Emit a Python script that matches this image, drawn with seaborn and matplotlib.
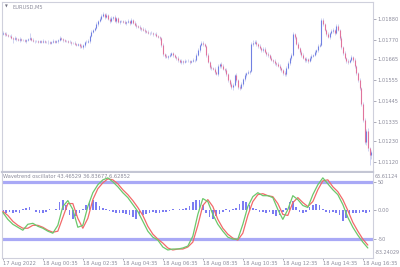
import numpy as np
import pandas as pd
import matplotlib
matplotlib.use('Agg')
import matplotlib.pyplot as plt
import matplotlib.transforms as mtrans
import seaborn as sns

sns.set_theme(style='white')
plt.rcParams['font.family'] = ['DejaVu Sans']

# ---------------- data ----------------
symbol = 'EURUSD,M5'
first_open = 1.01800
closes = [
    1.01806, 1.01800, 1.01795, 1.01790, 1.01790, 1.01779, 1.01774, 1.01779, 1.01774, 1.01768, 1.01774, 1.01768,
    1.01768, 1.01763, 1.01768, 1.01774, 1.01779, 1.01768, 1.01763, 1.01763, 1.01763, 1.01758, 1.01763, 1.01758,
    1.01763, 1.01758, 1.01758, 1.01758, 1.01753, 1.01758, 1.01763, 1.01758, 1.01763, 1.01768, 1.01779, 1.01774,
    1.01768, 1.01763, 1.01763, 1.01758, 1.01758, 1.01753, 1.01753, 1.01747, 1.01742, 1.01747, 1.01737, 1.01731,
    1.01742, 1.01758, 1.01758, 1.01763, 1.01790, 1.01811, 1.01822, 1.01832, 1.01853, 1.01869, 1.01880, 1.01896,
    1.01907, 1.01891, 1.01901, 1.01880, 1.01869, 1.01885, 1.01891, 1.01869, 1.01885, 1.01864, 1.01869, 1.01869,
    1.01864, 1.01859, 1.01864, 1.01869, 1.01859, 1.01875, 1.01859, 1.01848, 1.01843, 1.01838, 1.01832, 1.01827,
    1.01822, 1.01816, 1.01811, 1.01806, 1.01806, 1.01806, 1.01800, 1.01800, 1.01790, 1.01784, 1.01779, 1.01742,
    1.01694, 1.01684, 1.01678, 1.01684, 1.01689, 1.01699, 1.01689, 1.01678, 1.01673, 1.01662, 1.01652, 1.01657,
    1.01652, 1.01657, 1.01657, 1.01657, 1.01652, 1.01657, 1.01662, 1.01662, 1.01689, 1.01715, 1.01742, 1.01753,
    1.01747, 1.01737, 1.01689, 1.01652, 1.01625, 1.01620, 1.01615, 1.01599, 1.01588, 1.01630, 1.01641, 1.01630,
    1.01615, 1.01609, 1.01588, 1.01556, 1.01535, 1.01519, 1.01530, 1.01583, 1.01556, 1.01519, 1.01514, 1.01535,
    1.01561, 1.01583, 1.01593, 1.01599, 1.01604, 1.01747, 1.01753, 1.01758, 1.01747, 1.01737, 1.01726, 1.01715,
    1.01721, 1.01705, 1.01694, 1.01689, 1.01673, 1.01662, 1.01657, 1.01646, 1.01641, 1.01630, 1.01620, 1.01609,
    1.01593, 1.01588, 1.01620, 1.01646, 1.01673, 1.01689, 1.01800, 1.01784, 1.01747, 1.01726, 1.01705, 1.01689,
    1.01673, 1.01662, 1.01668, 1.01657, 1.01673, 1.01684, 1.01689, 1.01705, 1.01715, 1.01737, 1.01742, 1.01875,
    1.01853, 1.01822, 1.01800, 1.01784, 1.01806, 1.01816, 1.01822, 1.01806, 1.01843, 1.01822, 1.01779, 1.01731,
    1.01699, 1.01673, 1.01657, 1.01652, 1.01662, 1.01678, 1.01662, 1.01630, 1.01593, 1.01556, 1.01514, 1.01429,
    1.01344, 1.01227, 1.01285, 1.01195, 1.01158, 1.01174,
]
# wick lengths in points (0.00001)
wick_hi = [
    8, 6, 10, 5, 7, 9, 6, 8, 5, 7, 10, 6,
    5, 8, 6, 7, 27, 5, 9, 6, 8, 5, 7, 6,
    9, 5, 7, 8, 6, 5, 10, 6, 8, 7, 9, 5,
    6, 8, 5, 7, 9, 6, 5, 8, 6, 7, 5, 9,
    7, 6, 8, 10, 7, 9, 6, 8, 10, 7, 9, 8,
    10, 7, 9, 6, 8, 12, 7, 9, 6, 8, 7, 5,
    6, 8, 7, 9, 5, 10, 6, 8, 12, 7, 9, 6,
    8, 10, 7, 9, 6, 8, 5, 7, 9, 6, 8, 7,
    9, 6, 8, 7, 10, 6, 8, 5, 7, 9, 6, 8,
    7, 9, 6, 8, 5, 7, 9, 6, 8, 10, 7, 9,
    12, 8, 6, 9, 7, 10, 6, 8, 7, 9, 6, 8,
    10, 7, 9, 6, 8, 12, 9, 7, 10, 6, 8, 9,
    7, 8, 6, 9, 7, 12, 14, 8, 10, 7, 9, 6,
    8, 10, 7, 9, 6, 8, 7, 10, 6, 8, 9, 7,
    6, 9, 8, 10, 7, 12, 9, 8, 6, 10, 7, 9,
    8, 6, 10, 7, 9, 8, 6, 10, 7, 9, 8, 12,
    10, 8, 7, 9, 6, 10, 8, 7, 12, 9, 6, 8,
    7, 9, 6, 10, 8, 12, 7, 9, 6, 8, 10, 7,
    9, 8, 10, 14, 7, 12,
]
wick_lo = [
    6, 9, 5, 8, 7, 6, 21, 7, 9, 5, 8, 6,
    7, 5, 9, 6, 8, 7, 5, 9, 6, 8, 5, 7,
    6, 8, 5, 9, 7, 6, 8, 5, 7, 9, 6, 8,
    9, 5, 7, 8, 6, 9, 7, 5, 8, 6, 9, 7,
    8, 10, 6, 7, 9, 6, 8, 7, 5, 9, 6, 8,
    7, 9, 6, 8, 10, 7, 9, 6, 8, 7, 9, 6,
    8, 6, 9, 7, 10, 6, 8, 7, 9, 6, 8, 10,
    7, 9, 6, 8, 10, 7, 9, 6, 8, 7, 10, 9,
    8, 10, 7, 9, 6, 8, 10, 7, 9, 8, 6, 10,
    9, 7, 8, 6, 10, 8, 7, 9, 6, 8, 10, 7,
    9, 8, 10, 7, 12, 9, 8, 10, 7, 9, 8, 10,
    7, 9, 8, 12, 10, 9, 14, 8, 10, 9, 12, 8,
    10, 8, 9, 7, 10, 8, 9, 7, 8, 10, 7, 9,
    8, 7, 10, 9, 8, 7, 9, 8, 10, 7, 9, 8,
    10, 9, 8, 7, 9, 10, 8, 9, 7, 8, 10, 9,
    7, 9, 8, 10, 7, 9, 8, 7, 10, 9, 8, 7,
    9, 8, 10, 7, 9, 8, 10, 9, 7, 8, 10, 9,
    8, 7, 10, 9, 8, 7, 9, 10, 8, 9, 12, 10,
    12, 10, 14, 18, 53, 20,
]
price_ticks = [1.01880, 1.01770, 1.01665, 1.01555, 1.01445, 1.01335, 1.01230, 1.01120]

# oscillator sampled every 3 bars
wt_step = 3
wt1 = [
    -3.5, -15.6, -24.2, -29.4, -34.6, -24.2, -22.5, -27.7, -31.1, -36.3,
    -39.8, -26.0, 6.9, 17.3, 1.7, -29.4, -26.0, 6.9, 31.1, 45.0,
    53.6, 57.1, 50.2, 41.5, 31.1, 22.5, 10.4, -1.7, -19.0, -36.3,
    -46.7, -51.9, -64.0, -69.2, -67.5, -67.5, -65.7, -62.3, -45.0, -6.9,
    20.8, 15.6, -6.9, -24.2, -36.3, -46.7, -50.2, -50.2, -24.2, 6.9,
    24.2, 31.1, 25.9, 25.9, 22.5, 1.7, -15.6, 1.7, 25.9, 19.0,
    8.7, 5.2, 27.7, 45.0, 57.1, 46.7, 36.3, 27.7, 10.4, -12.1,
    -29.4, -43.3, -55.4, -65.7,
]
wt2 = [
    -1.7, -8.7, -19.0, -26.0, -31.1, -31.1, -26.0, -26.0, -29.4, -34.6,
    -38.1, -36.3, -12.1, 12.1, 12.1, -13.8, -31.1, -13.8, 19.0, 38.1,
    48.4, 55.4, 53.6, 46.7, 36.3, 27.7, 17.3, 5.2, -8.7, -27.7,
    -41.5, -50.2, -57.1, -65.7, -69.2, -67.5, -67.5, -64.0, -55.4, -26.0,
    8.7, 19.0, 6.9, -15.6, -31.1, -41.5, -48.4, -51.9, -39.8, -8.7,
    15.6, 27.7, 29.4, 25.9, 24.2, 12.1, -6.9, -8.7, 13.8, 22.5,
    13.8, 6.9, 15.6, 36.3, 51.9, 53.6, 41.5, 32.9, 19.0, 0.0,
    -20.8, -36.3, -50.2, -60.6,
]
# histogram sampled every 2 bars
hist_step = 2
hist = [
    -6, -4, -3, -4, -3, -4, 2, 4, 6, 1,
    -2, -5, -4, -2, 2, 1, 3, 14, 19, 10,
    -8, -15, -10, -5, 3, 10, 17, 19, 14, 8,
    4, 2, -1, -3, -4, -5, -4, -6, -8, -12,
    -15, -10, -8, -6, -4, -3, -5, -4, -2, -3,
    -1, 2, 1, 3, 2, 4, 8, 14, 19, 18,
    10, -4, -12, -15, -10, -6, -3, 2, -2, 3,
    5, 12, 16, 14, 9, 5, 2, -2, -3, -4,
    -3, -6, -10, -8, -2, 5, 14, 16, 6, -3,
    -4, -2, 6, 10, 12, 9, 3, -3, -4, -3,
    -5, -8, -18, -14, -8, -5, -4, -4, -3, -4,
    -3,
]
ind_title = 'Wavetrend oscillator 43.46529 36.83677 6.62852'
ind_max = 65.61124
ind_min = -83.24029
levels = [50, -50]
time_labels = ['17 Aug 2022', '18 Aug 00:35', '18 Aug 02:35', '18 Aug 04:35', '18 Aug 06:35',
               '18 Aug 08:35', '18 Aug 10:35', '18 Aug 12:35', '18 Aug 14:35', '18 Aug 16:35']
time_label_step = 24

# ---------------- build ----------------
n = len(closes)
idx = np.arange(n)
c = np.array(closes)
o = np.concatenate([[first_open], c[:-1]])
hi = np.maximum(o, c) + np.array(wick_hi) * 1e-5
lo = np.minimum(o, c) - np.array(wick_lo) * 1e-5
df = pd.DataFrame({'bar': idx, 'open': o, 'close': c, 'high': hi, 'low': lo})

W, H = 400, 267
fig = plt.figure(figsize=(W / 100, H / 100), dpi=100)
fig.patch.set_facecolor('white')

frame_col = '#cfd0dc'
txt_col = '#8c8c9c'
fs = 3.7

ax1 = fig.add_axes([2 / W, 1 - 172 / H, 371 / W, 170 / H])
ax2 = fig.add_axes([2 / W, 1 - 258 / H, 371 / W, 85 / H])

bull = '#6272e0'
bear = '#e3648f'
wick = '#c9cdef'

ax1.vlines(df['bar'], df['low'], df['high'], color=wick, lw=0.6, zorder=1)
up = df['close'] >= df['open']
ax1.vlines(df.loc[up, 'bar'], df.loc[up, 'open'], df.loc[up, 'close'], color=bull, lw=0.8, alpha=0.85, zorder=2)
ax1.vlines(df.loc[~up, 'bar'], df.loc[~up, 'open'], df.loc[~up, 'close'], color=bear, lw=0.8, alpha=0.85, zorder=2)

xl = (-0.5, 222.1)
ax1.set_xlim(*xl)
ax1.set_ylim(1.01068, 1.01970)
ax1.yaxis.tick_right()
ax1.set_yticks(price_ticks)
ax1.set_yticklabels([f'{p:.5f}' for p in price_ticks])
ax1.set_xticks([])
ax1.tick_params(axis='y', labelsize=fs, colors=txt_col, length=2, width=0.5, pad=1.5, right=True, left=False)
for lbl in ax1.get_yticklabels():
    lbl.set_color(txt_col)
for s in ['left', 'right', 'top']:
    ax1.spines[s].set_color(frame_col)
    ax1.spines[s].set_linewidth(0.8)
ax1.spines['bottom'].set_color('#c4c6d4')
ax1.spines['bottom'].set_linewidth(1.6)
ax1.text(0.008, 0.985, '\u25BC', transform=ax1.transAxes, fontsize=2.6, color='#707080', va='top', ha='left')
ax1.text(0.028, 0.985, symbol, transform=ax1.transAxes, fontsize=fs, color=txt_col, va='top', ha='left')

# indicator
for lv in levels:
    ax2.axhline(lv, color='#a9a9f6', lw=2.3, zorder=1)
hx = np.arange(len(hist)) * hist_step
ax2.bar(hx, hist, width=1.0, color='#7c7cf2', zorder=2, linewidth=0)
wx = np.arange(len(wt1)) * wt_step
wdf = pd.DataFrame({'bar': wx, 'wt1': wt1, 'wt2': wt2})
sns.lineplot(data=wdf, x='bar', y='wt2', ax=ax2, color='#f26a6a', lw=0.9, zorder=3)
sns.lineplot(data=wdf, x='bar', y='wt1', ax=ax2, color='#6cc86c', lw=0.9, zorder=4)
ax2.set_xlim(*xl)
ax2.set_ylim(ind_min, ind_max)
ax2.set_xlabel('')
ax2.set_ylabel('')
ax2.yaxis.tick_right()
ax2.set_yticks([50, 0, -50])
ax2.set_yticklabels(['50', '0.00', '-50'])
ax2.tick_params(axis='y', labelsize=fs, colors=txt_col, length=2, width=0.5, pad=1.5, right=True, left=False)
tick_pos = np.arange(len(time_labels)) * time_label_step
ax2.set_xticks(tick_pos)
ax2.set_xticklabels(time_labels)
ax2.tick_params(axis='x', labelsize=fs, colors=txt_col, length=1.5, width=0.5, pad=1.0, bottom=True)
for lbl in ax2.get_xticklabels():
    lbl.set_horizontalalignment('left')
    lbl.set_color(txt_col)
for lbl in ax2.get_yticklabels():
    lbl.set_color(txt_col)
for s in ['left', 'right', 'bottom']:
    ax2.spines[s].set_color(frame_col)
    ax2.spines[s].set_linewidth(0.8)
ax2.spines['top'].set_visible(False)
tr = mtrans.blended_transform_factory(ax2.transAxes, ax2.transData)
ax2.annotate(f'{ind_max:.5f}', xy=(1.0, ind_max), xycoords=tr, xytext=(1.2, -1), textcoords='offset points',
             fontsize=3.5, color=txt_col, va='top', ha='left', annotation_clip=False)
ax2.annotate(f'{ind_min:.5f}', xy=(1.0, ind_min), xycoords=tr, xytext=(1.2, 2.5), textcoords='offset points',
             fontsize=3.5, color=txt_col, va='bottom', ha='left', annotation_clip=False)
ax2.text(0.003, 0.985, ind_title, transform=ax2.transAxes, fontsize=fs, color=txt_col, va='top', ha='left', zorder=5)

fig.savefig('out.png', dpi=100, facecolor='white')
